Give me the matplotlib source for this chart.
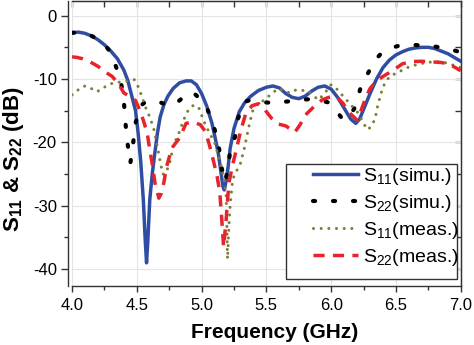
import matplotlib
matplotlib.use('Agg')
import matplotlib.pyplot as plt
from matplotlib.patches import Rectangle
from matplotlib.ticker import MultipleLocator

plt.rcParams['font.family'] = ['Liberation Sans', 'DejaVu Sans']
plt.rcParams['mathtext.default'] = 'regular'
plt.rcParams['axes.unicode_minus'] = False

# S11 simulated
freq_s11_sim = [4.00, 4.05, 4.10, 4.15, 4.20, 4.25, 4.30, 4.35, 4.40, 4.43, 4.46, 4.49,
                4.51, 4.53, 4.55, 4.565, 4.575, 4.585, 4.60, 4.62, 4.64, 4.66, 4.68,
                4.71, 4.74, 4.78, 4.83, 4.88, 4.92, 4.96, 5.00, 5.04, 5.08, 5.11, 5.13,
                5.15, 5.165, 5.175, 5.19, 5.205, 5.22, 5.25, 5.29, 5.33, 5.38, 5.44,
                5.50, 5.55, 5.60, 5.65, 5.70, 5.75, 5.80, 5.85, 5.90, 5.95, 6.00, 6.05,
                6.10, 6.15, 6.19, 6.22, 6.26, 6.30, 6.35, 6.40, 6.45, 6.50, 6.55, 6.60,
                6.65, 6.70, 6.75, 6.80, 6.85, 6.90, 6.95, 7.00]
s11_sim = [-2.7, -2.6, -2.8, -3.2, -3.8, -4.6, -5.6, -6.8, -8.6, -10.2, -12.6, -15.0,
           -18.5, -23.0, -29.0, -35.5, -39.0, -35.5, -29.0, -24.8, -21.5, -18.4, -16.0,
           -14.0, -12.7, -11.5, -10.6, -10.3, -10.3, -10.9, -12.3, -14.3, -17.0, -19.8, -21.9,
           -24.8, -27.0, -27.5, -26.0, -23.8, -21.0, -17.8, -15.2, -13.8, -12.7, -11.8,
           -11.3, -11.1, -11.4, -12.3, -12.9, -13.1, -12.7, -11.9, -11.3, -11.1, -11.6, -12.9,
           -14.6, -16.3, -17.0, -16.3, -14.3, -12.3, -10.0, -8.2, -7.0, -6.2, -5.7, -5.3,
           -5.1, -5.0, -5.0, -5.2, -5.6, -6.0, -6.6, -7.2]

# S22 simulated
freq_s22_sim = [4.00, 4.05, 4.10, 4.15, 4.20, 4.25, 4.29, 4.33, 4.36, 4.38, 4.40, 4.41,
                4.43, 4.45, 4.47, 4.49, 4.52, 4.56, 4.62, 4.67, 4.72, 4.78, 4.84, 4.90,
                4.95, 5.00, 5.04, 5.09, 5.13, 5.15, 5.18, 5.20, 5.22, 5.26, 5.28, 5.33,
                5.38, 5.44, 5.50, 5.57, 5.63, 5.69, 5.75, 5.82, 5.90, 5.98, 6.04, 6.09,
                6.14, 6.18, 6.23, 6.27, 6.30, 6.34, 6.38, 6.45, 6.53, 6.62, 6.69, 6.77,
                6.84, 6.92, 7.00]
s22_sim = [-2.7, -2.7, -2.9, -3.2, -3.7, -4.5, -5.6, -7.5, -9.3, -10.8, -13.5, -16.5,
           -20.4, -23.3, -20.4, -17.0, -14.4, -13.7, -13.4, -13.6, -14.0, -14.2, -13.2, -12.1,
           -12.4, -13.4, -14.5, -17.2, -20.1, -23.6, -26.3, -24.5, -21.5, -19.0, -16.3, -13.6,
           -13.3, -13.6, -13.7, -13.8, -13.6, -13.5, -13.3, -13.2, -13.3, -13.7, -15.0, -16.4,
           -15.9, -14.6, -11.2, -9.6, -8.5, -7.0, -6.1, -5.2, -4.7, -4.6, -4.7, -4.8,
           -5.0, -5.3, -5.8]

# S11 measured
freq_s11_meas = [4.00, 4.03, 4.06, 4.10, 4.14, 4.19, 4.23, 4.27, 4.32, 4.37, 4.43, 4.48,
                 4.51, 4.54, 4.57, 4.60, 4.63, 4.66, 4.68, 4.70, 4.72, 4.74, 4.76, 4.78,
                 4.82, 4.86, 4.90, 4.94, 4.98, 5.02, 5.06, 5.10, 5.14, 5.17, 5.19, 5.195,
                 5.20, 5.21, 5.22, 5.24, 5.27, 5.30, 5.33, 5.37, 5.40, 5.43, 5.48, 5.53,
                 5.59, 5.64, 5.68, 5.73, 5.78, 5.83, 5.90, 5.94, 6.00, 6.04, 6.07, 6.14,
                 6.21, 6.25, 6.28, 6.31, 6.34, 6.36, 6.40, 6.45, 6.53, 6.61, 6.71, 6.78,
                 6.84, 6.90, 6.94, 7.00]
s11_meas = [-12.5, -12.0, -11.5, -11.1, -11.4, -12.0, -11.6, -11.0, -10.6, -10.5, -10.3, -10.1,
            -11.2, -12.8, -14.6, -16.0, -17.8, -20.8, -23.0, -25.0, -25.0, -24.0, -22.8, -20.5,
            -18.8, -16.5, -14.8, -14.1, -14.6, -16.8, -18.5, -20.0, -22.8, -25.4, -28.5, -33.0,
            -38.4, -33.5, -30.0, -25.8, -24.5, -23.3, -20.9, -17.0, -14.6, -13.8, -13.4, -12.5,
            -11.5, -11.9, -12.2, -11.7, -11.8, -12.0, -13.3, -12.5, -10.9, -11.5, -12.2, -13.8,
            -15.4, -17.0, -18.0, -17.5, -16.2, -14.1, -11.2, -9.6, -8.8, -8.0, -7.5, -7.3,
            -7.3, -7.5, -7.8, -8.2]

# S22 measured
freq_s22_meas = [4.00, 4.04, 4.08, 4.14, 4.20, 4.25, 4.31, 4.36, 4.40, 4.45, 4.49, 4.52,
                 4.55, 4.58, 4.60, 4.62, 4.64, 4.67, 4.69, 4.71, 4.73, 4.77, 4.83, 4.88,
                 4.93, 4.99, 5.03, 5.06, 5.09, 5.12, 5.14, 5.155, 5.17, 5.19, 5.21, 5.24,
                 5.27, 5.30, 5.34, 5.39, 5.44, 5.49, 5.54, 5.59, 5.65, 5.72, 5.76, 5.80,
                 5.87, 5.93, 5.98, 6.04, 6.09, 6.13, 6.20, 6.23, 6.26, 6.30, 6.35, 6.40,
                 6.48, 6.55, 6.62, 6.70, 6.78, 6.85, 6.90, 6.95, 7.00]
s22_meas = [-6.5, -6.6, -6.8, -7.3, -8.0, -8.8, -9.6, -10.8, -12.2, -12.8, -13.4, -14.8,
            -16.5, -18.5, -21.2, -23.5, -26.4, -28.8, -28.0, -26.2, -23.8, -20.9, -19.3, -17.0,
            -16.8, -17.2, -18.3, -20.4, -22.8, -25.4, -27.8, -32.0, -36.5, -32.0, -26.5, -23.5,
            -21.0, -18.3, -15.5, -14.2, -13.9, -14.9, -16.2, -17.1, -17.4, -18.4, -17.2, -15.7,
            -14.3, -13.3, -12.9, -12.8, -13.8, -15.1, -16.5, -15.0, -13.3, -11.5, -10.3, -9.6,
            -8.6, -7.6, -7.25, -7.2, -7.3, -7.4, -7.6, -8.1, -8.7]

fig = plt.figure(figsize=(4.74, 3.45), dpi=100)
ax = fig.add_axes([0.152, 0.172, 0.820, 0.825])

ax.plot(freq_s11_sim, s11_sim, color='#2f4ea3', lw=2.5, label='S$_{11}$(simu.)', zorder=3)
ax.plot(freq_s22_sim, s22_sim, color='black', lw=3.0, dashes=(0.5, 4.3),
        dash_capstyle='round', label='S$_{22}$(simu.)', zorder=3)
ax.plot(freq_s11_meas, s11_meas, color='#7d7d35', lw=2.2, dashes=(0.01, 2.5),
        dash_capstyle='round', label='S$_{11}$(meas.)', zorder=3)
ax.plot(freq_s22_meas, s22_meas, color='#e8232b', lw=2.5, dashes=(3.2, 2.4),
        label='S$_{22}$(meas.)', zorder=3)

ax.set_xlim(4.0, 7.0)
ax.set_ylim(-42.6, 2.3)

ax.xaxis.set_major_locator(MultipleLocator(0.5))
ax.xaxis.set_minor_locator(MultipleLocator(0.25))
ax.yaxis.set_major_locator(MultipleLocator(10))
ax.yaxis.set_minor_locator(MultipleLocator(5))
ax.xaxis.set_major_formatter(matplotlib.ticker.FormatStrFormatter('%.1f'))

ax.grid(True, which='major', color='#e4e4e4', lw=0.8, zorder=0)
ax.set_axisbelow(True)

spine_col = '#333333'
for s in ax.spines.values():
    s.set_color(spine_col)
    s.set_linewidth(1.0)
ax.spines['left'].set_position(('outward', 3))

ax.tick_params(axis='both', which='both', direction='out', colors=spine_col,
               labelcolor='black', labelsize=12, width=1.0)
ax.tick_params(axis='x', which='major', length=4, pad=5)
ax.tick_params(axis='x', which='minor', length=3)
ax.tick_params(axis='y', which='major', length=5, pad=3)
ax.tick_params(axis='y', which='minor', length=3)

# inward ticks on the top and right frame
top = ax.secondary_xaxis('top')
top.xaxis.set_major_locator(MultipleLocator(0.25))
top.tick_params(direction='in', length=4, labeltop=False, colors=spine_col, width=1.0)
top.spines['top'].set_color(spine_col)
right = ax.secondary_yaxis('right')
right.yaxis.set_major_locator(MultipleLocator(5))
right.tick_params(direction='in', length=4, labelright=False, colors=spine_col, width=1.0)
right.spines['right'].set_color(spine_col)

ax.set_xlabel('Frequency (GHz)', fontsize=15, fontweight='bold')
ax.xaxis.set_label_coords(0.52, -0.13)
ax.set_ylabel('S$_{11}$ & S$_{22}$ (dB)', fontsize=16, fontweight='bold')
ax.yaxis.set_label_coords(-0.118, 0.445)

# legend frame drawn separately so the handles sit further in
box = Rectangle((0.5505, 0.0235), 0.4395, 0.404, transform=ax.transAxes,
                facecolor='white', edgecolor=spine_col, lw=1.0, zorder=4)
ax.add_patch(box)
ax.legend(loc='upper left', bbox_to_anchor=(0.62, 0.42), frameon=False, fontsize=14,
          handlelength=2.3, handletextpad=0.26, labelspacing=0.3, borderpad=0,
          borderaxespad=0).set_zorder(5)

fig.savefig('out.png', dpi=100)
